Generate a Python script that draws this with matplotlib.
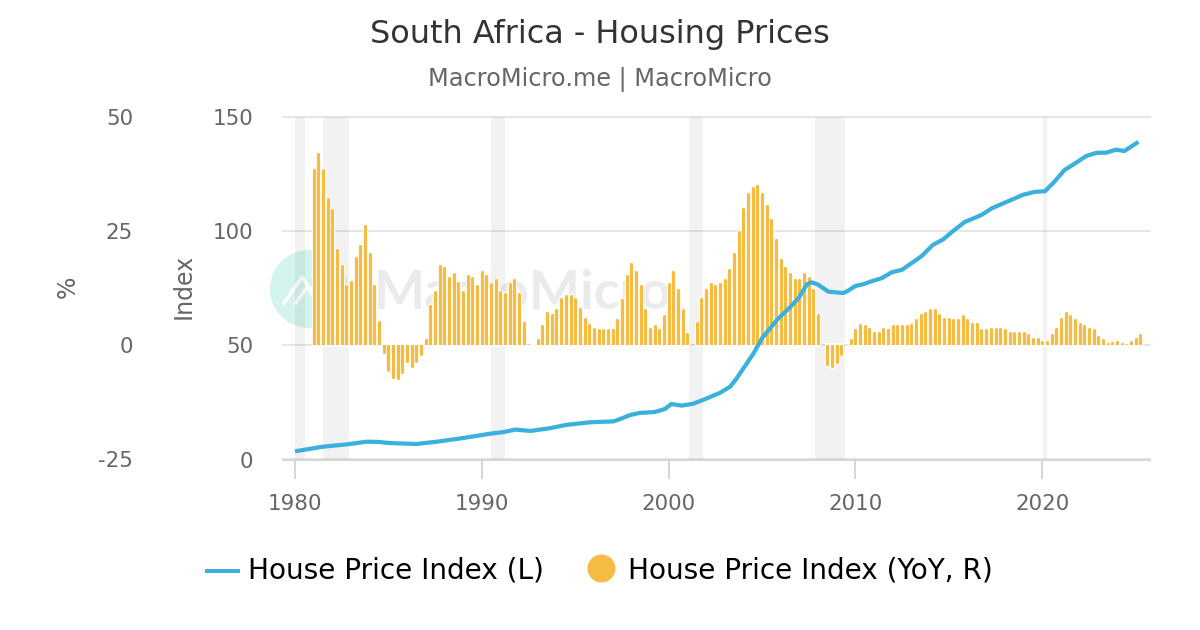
import matplotlib
matplotlib.use("Agg")
import matplotlib.pyplot as plt
from matplotlib.lines import Line2D
from matplotlib.patches import Circle, Rectangle
from matplotlib.transforms import IdentityTransform, offset_copy

# house price index (left scale)
hpi_years = [1980.0, 1981.5, 1982.75, 1983.85, 1984.45, 1985.1, 1986.5, 1987.6, 1989.0, 1990.45,
             1991.15, 1991.8, 1992.6, 1993.65, 1994.55, 1995.8, 1997.05, 1997.4, 1997.95, 1998.45,
             1999.25, 1999.8, 2000.15, 2000.7, 2001.3, 2001.85, 2002.75, 2003.3, 2003.65, 2004.55,
             2005.0, 2005.8, 2006.5, 2006.95, 2007.4, 2007.65, 2008.0, 2008.55, 2009.35, 2009.6,
             2010.0, 2010.4, 2010.85, 2011.4, 2011.95, 2012.5, 2013.55, 2014.15, 2014.7, 2015.25,
             2015.85, 2016.75, 2017.3, 2018.0, 2019.0, 2019.6, 2020.15, 2020.6, 2021.2, 2021.65,
             2022.35, 2022.9, 2023.45, 2023.95, 2024.4, 2025.15]
hpi_values = [3.6, 5.6, 6.6, 7.8, 7.7, 7.2, 6.8, 7.8, 9.4, 11.3,
              12.0, 13.1, 12.5, 13.7, 15.2, 16.3, 16.7, 17.7, 19.5, 20.4,
              20.8, 22.1, 24.3, 23.6, 24.4, 26.1, 29.2, 31.9, 35.6, 46.5,
              53.1, 61.1, 66.7, 70.6, 76.7, 77.6, 76.6, 73.5, 72.9, 73.9,
              76.0, 76.7, 78.0, 79.4, 82.0, 83.1, 89.1, 94.0, 96.4, 100.2,
              104.0, 107.1, 110.0, 112.5, 116.0, 117.2, 117.5, 121.2, 126.8, 129.1,
              132.9, 134.3, 134.4, 135.7, 135.1, 139.1]

# year on year change, quarterly from 1981 Q1 (right scale)
yoy_start = 1981.0
yoy_values = [38.7, 42.3, 38.7, 32.5, 30.0, 21.2, 17.7, 13.4, 14.3, 19.5,
              22.1, 26.5, 20.3, 13.4, 5.5, -1.8, -5.8, -7.2, -7.5, -6.2,
              -3.7, -4.9, -3.7, -2.3, 1.5, 9.0, 12.1, 17.7, 17.3, 15.1,
              15.9, 13.9, 12.1, 15.5, 15.1, 13.4, 16.4, 15.6, 13.8, 14.6,
              12.1, 11.5, 13.7, 14.6, 11.5, 5.3, 0.5, 0.1, 1.5, 4.5,
              7.5, 7.1, 8.0, 10.6, 11.1, 11.1, 10.6, 8.4, 6.2, 4.9,
              4.0, 3.6, 3.6, 3.6, 3.6, 5.8, 10.2, 15.5, 18.1, 16.3,
              13.3, 8.0, 4.0, 4.5, 3.6, 6.7, 13.7, 16.3, 12.4, 8.0,
              2.8, 0.0, 5.3, 10.6, 12.4, 13.7, 13.3, 13.7, 14.6, 16.8,
              20.3, 25.1, 30.3, 33.4, 34.7, 35.2, 33.4, 30.8, 27.8, 23.4,
              19.0, 17.2, 15.9, 14.6, 14.6, 15.9, 15.0, 12.4, 7.1, 0.0,
              -4.5, -4.9, -3.9, -2.2, 0.0, 1.5, 3.6, 4.9, 4.5, 4.0,
              3.1, 3.1, 4.0, 3.6, 4.5, 4.5, 4.5, 4.5, 4.9, 5.8,
              7.1, 7.5, 8.0, 8.0, 7.1, 6.2, 6.2, 5.8, 5.8, 6.7,
              5.8, 5.0, 5.0, 3.7, 3.7, 4.0, 4.0, 4.0, 3.7, 3.1,
              3.1, 3.1, 3.1, 2.7, 1.8, 1.8, 1.1, 1.1, 2.7, 4.0,
              6.2, 7.5, 6.7, 5.8, 5.0, 4.5, 4.0, 3.6, 2.2, 1.5,
              0.6, 0.9, 1.0, 0.6, 0.5, 1.1, 1.8, 2.7]
yoy_years = [yoy_start + i * 0.25 for i in range(len(yoy_values))]

recessions = [(1980.0, 1980.55), (1981.5, 1982.9), (1990.5, 1991.25),
              (2001.1, 2001.85), (2007.85, 2009.45), (2020.05, 2020.25)]

x_ticks = [1980, 1990, 2000, 2010, 2020]
left_ticks = [0, 50, 100, 150]
right_ticks = [-25, 0, 25, 50]

BLUE = "#3bb0dc"
GOLD = "#f6bb43"
GREY = "#666666"
W, H = 1200, 630
TICK_SIZE = 15.4


def px(v):
    # pixels to points at dpi 100
    return v * 0.72


plt.rcParams["font.family"] = "DejaVu Sans"
plt.rcParams["axes.unicode_minus"] = False

fig = plt.figure(figsize=(W / 100, H / 100), dpi=100, facecolor="white")
rect = [283 / W, 1 - 459.5 / H, (1150 - 283) / W, (459.5 - 117) / H]

# bars live on the back axes, the index line on the front one
ax2 = fig.add_axes(rect, zorder=1)
ax = fig.add_axes(rect, zorder=2)
ax.patch.set_visible(False)

xlim = (1979.36, 2025.77)
for a in (ax, ax2):
    a.set_xlim(xlim)
    for s in ("top", "right", "left"):
        a.spines[s].set_visible(False)
ax.set_ylim(0, 150)
ax2.set_ylim(-25, 50)

# watermark sits under everything else
corner = IdentityTransform()
ax2.add_patch(Circle((309, H - 289), 39, transform=corner, fc="#d3f4ee", ec="none", zorder=0.5, clip_on=False))
for xs, ys in (([284, 302, 320], [303, 277, 303]), ([296, 307, 318], [303, 287, 303])):
    ax2.add_line(Line2D(xs, [H - y for y in ys], transform=corner, color="white",
                        lw=px(3.5), zorder=0.6, clip_on=False))
ax2.text(374, H - 309, "MacroMicro", transform=corner, family="Lato", weight="bold",
         fontsize=39, color="#ebebeb", zorder=0.7, clip_on=False)

ax2.set_yticks(right_ticks)
ax.set_yticks(left_ticks)
ax2.grid(axis="y", color="#e6e6e6", lw=px(2), zorder=0.8)
for g in ax2.get_ygridlines():
    g.set_clip_on(False)
    g.set_zorder(0.8)
ax2.set_axisbelow(True)

for x0, x1 in recessions:
    ax2.axvspan(x0, x1, ymin=0, ymax=1, fc="black", alpha=0.052, ec="none", zorder=1)

# round-topped bars: a white halo first, then the bar, shifted back by the cap radius
pos_x = [x for x, v in zip(yoy_years, yoy_values) if v >= 0]
pos_v = [v for v in yoy_values if v >= 0]
neg_x = [x for x, v in zip(yoy_years, yoy_values) if v < 0]
neg_v = [v for v in yoy_values if v < 0]
shift_up = offset_copy(ax2.transData, fig=fig, x=0, y=-1.6, units="dots")
shift_dn = offset_copy(ax2.transData, fig=fig, x=0, y=1.6, units="dots")

for xs, vs, tr, low, high in ((pos_x, pos_v, shift_up, 0, 60), (neg_x, neg_v, shift_dn, -30, 0)):
    halo = ax2.vlines(xs, 0, vs, color="white", lw=px(5.4), capstyle="round", transform=tr, zorder=2)
    pad = 0.45
    halo.set_clip_path(Rectangle((1975, low - pad), 60, high - low + 2 * pad, transform=ax2.transData))
    bars = ax2.vlines(xs, 0, vs, color=GOLD, lw=px(3.2), capstyle="round", transform=tr, zorder=3)
    bars.set_clip_path(Rectangle((1975, low), 60, high - low, transform=ax2.transData))

ax.plot(hpi_years, hpi_values, color=BLUE, lw=px(4.2), solid_capstyle="butt", solid_joinstyle="round", zorder=5)

for a in (ax, ax2):
    a.spines["bottom"].set_color("#d6d6d6")
    a.spines["bottom"].set_linewidth(px(2))
    a.set_xticks(x_ticks)
    a.tick_params(axis="x", length=px(19), width=px(2), color="#d6d6d6",
                  labelsize=TICK_SIZE, labelcolor=GREY, pad=px(15))
ax2.tick_params(axis="x", labelbottom=False, length=0)
ax.tick_params(axis="y", length=0, labelsize=TICK_SIZE, labelcolor=GREY, pad=px(30))
ax2.tick_params(axis="y", length=0, labelsize=TICK_SIZE, labelcolor=GREY, pad=px(150))

fig.text(600 / W, 1 - 34 / H, "South Africa - Housing Prices", ha="center", va="center",
         fontsize=22.95, color="#333333")
fig.text(600 / W, 1 - 79 / H, "MacroMicro.me | MacroMicro", ha="center", va="center",
         fontsize=17.25, color=GREY)
fig.text(68 / W, 1 - 286.5 / H, "%", rotation=90, ha="center", va="center", fontsize=17, color=GREY)
fig.text(184 / W, 1 - 286.5 / H, "Index", rotation=90, ha="center", va="center", fontsize=17, color=GREY)

# hand placed legend row
fig.add_artist(Line2D([207 / W, 238 / W], [1 - 571 / H] * 2, color=BLUE, lw=px(4)))
fig.text(248 / W, 1 - 571 / H, "House Price Index (L)", ha="left", va="center", fontsize=20.07, color="black")
fig.add_artist(Line2D([601 / W], [1 - 568 / H], marker="o", ms=px(28), mfc=GOLD, mec="none", ls=""))
fig.text(628 / W, 1 - 571 / H, "House Price Index (YoY, R)", ha="left", va="center", fontsize=20.07, color="black")

fig.savefig("out.png", dpi=100, facecolor="white")
